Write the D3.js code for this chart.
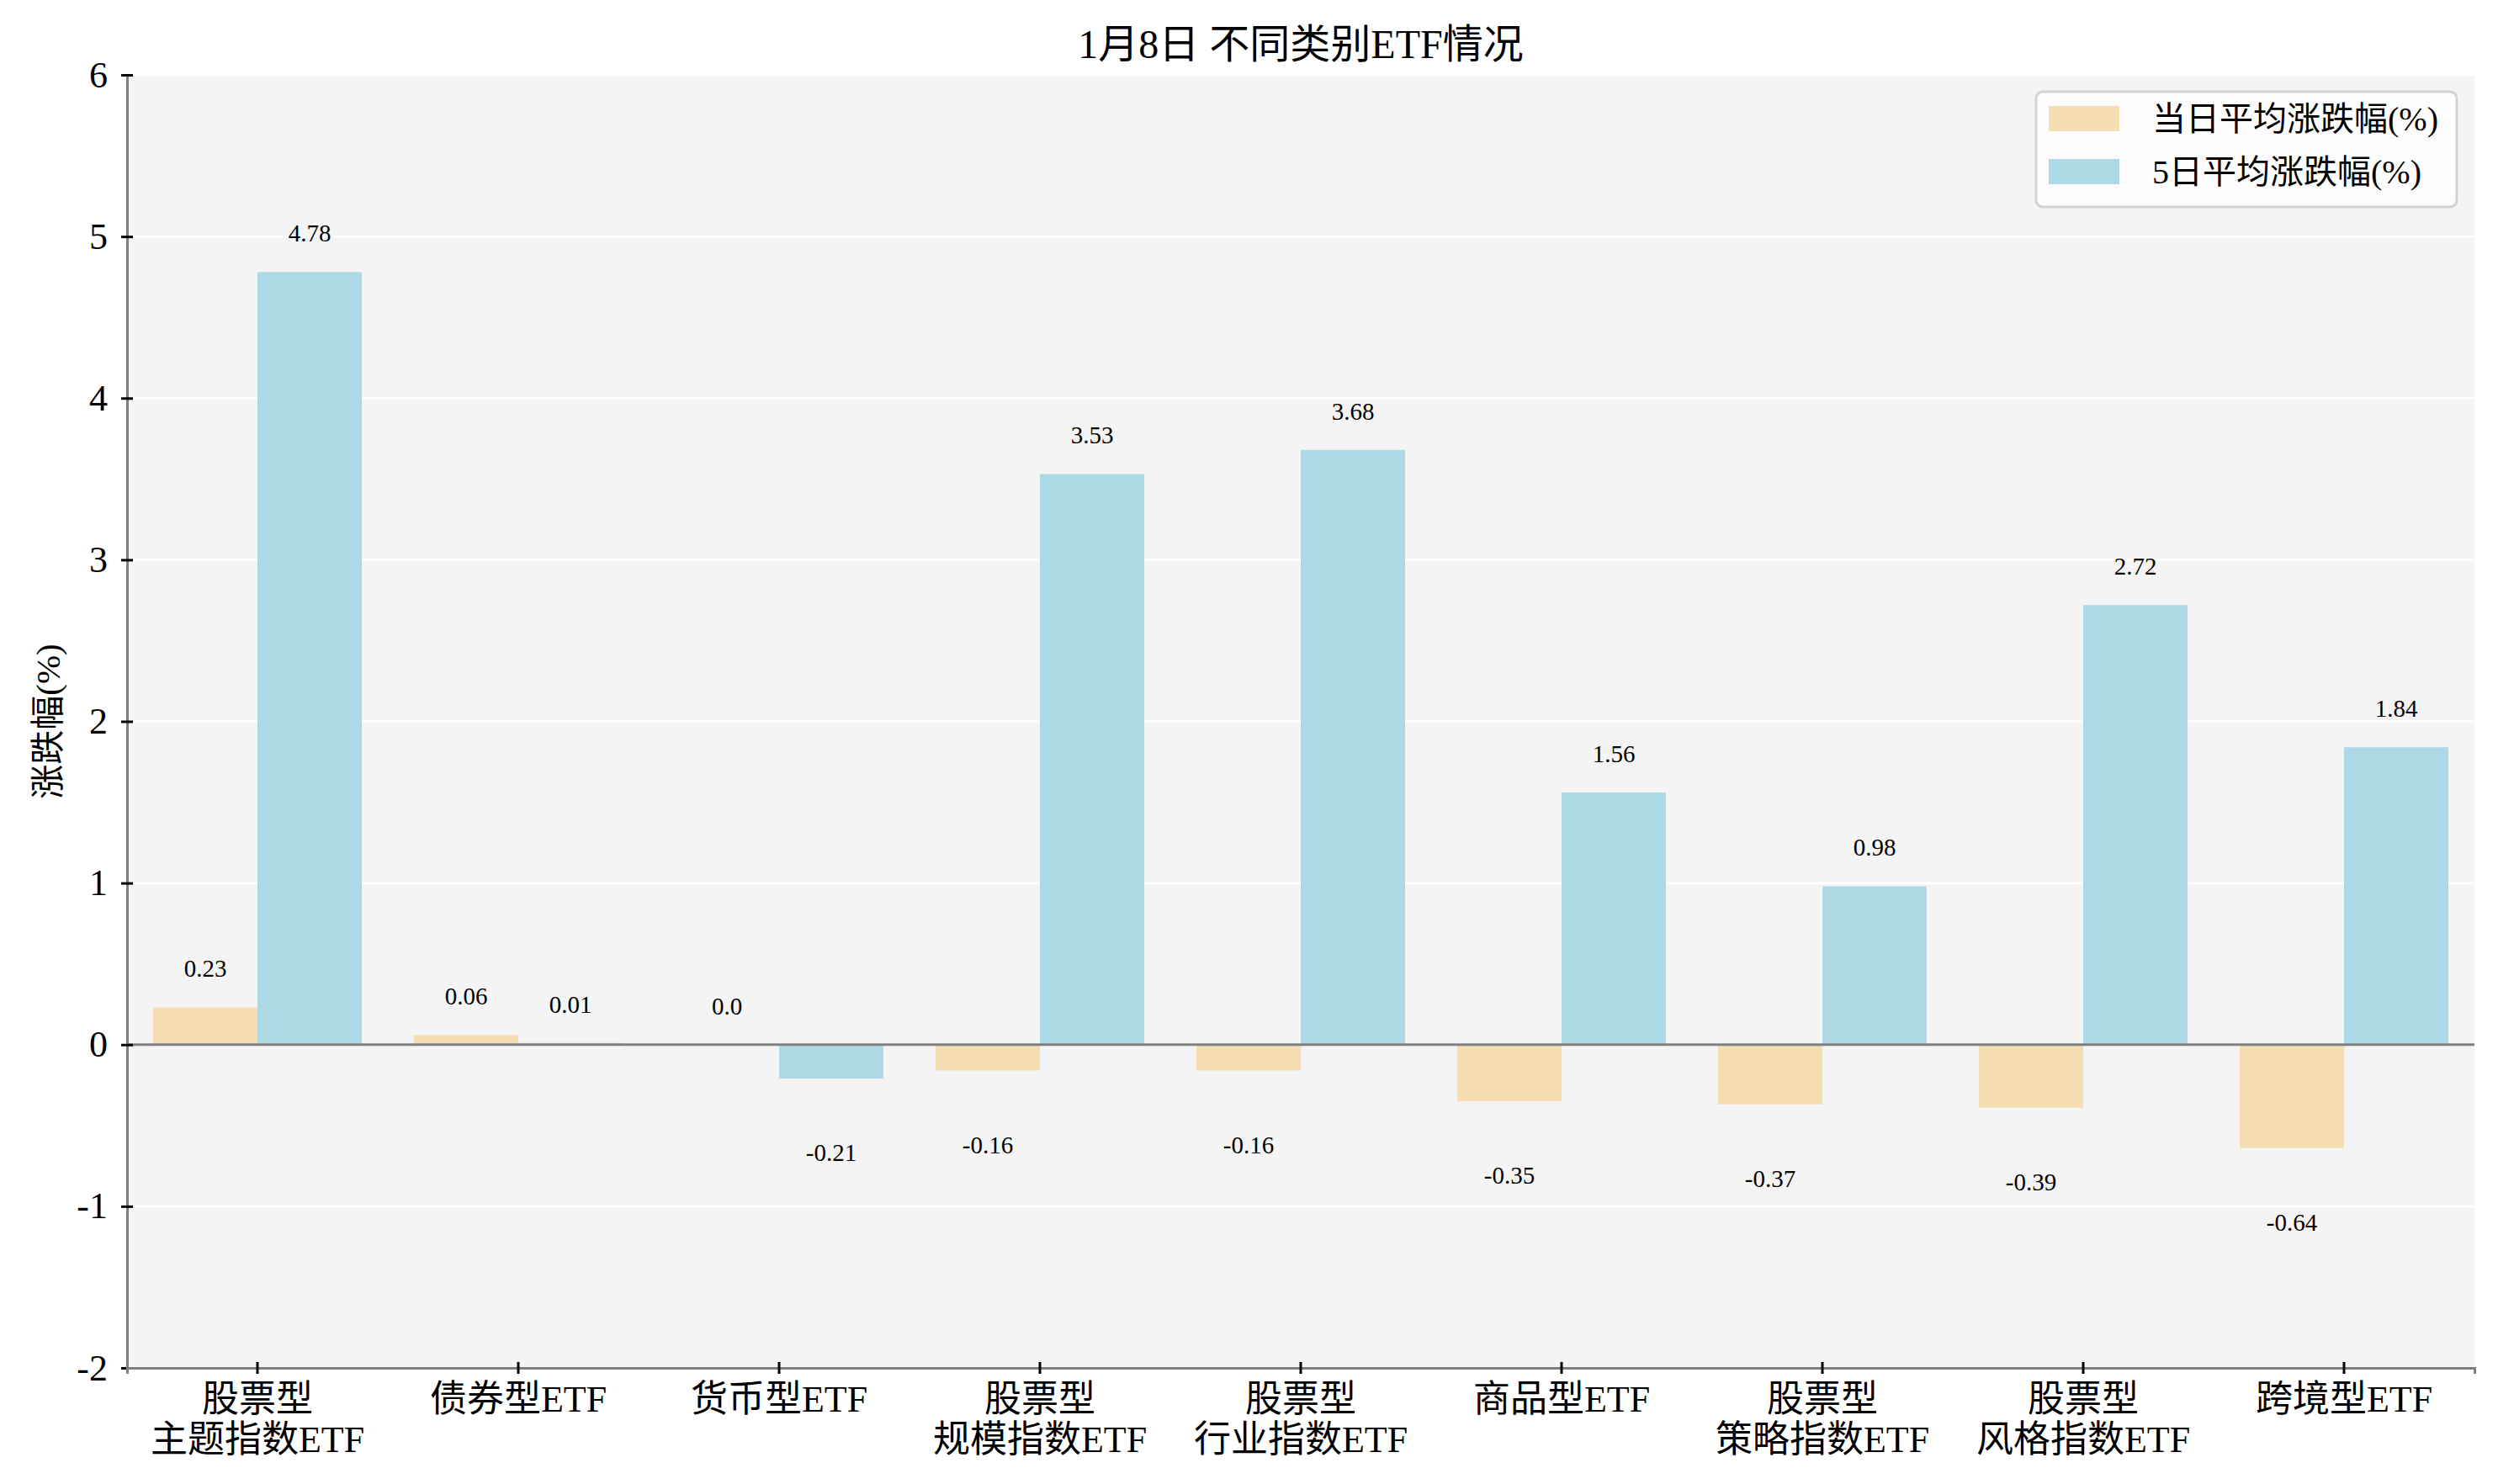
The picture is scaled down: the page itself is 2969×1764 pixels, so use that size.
<!DOCTYPE html>
<html>
<head>
<meta charset="utf-8">
<script src="https://cdn.jsdelivr.net/npm/d3@7"></script>
<style>
  body { margin: 0; background: #fff; }
  text { font-family: "Liberation Serif", "Noto Sans CJK SC", serif; fill: #000; }
</style>
</head>
<body>
<div id="chart"></div>
<script>
const categories = [
    "股票型\n主题指数ETF", "债券型ETF", "货币型ETF", "股票型\n规模指数ETF",
    "股票型\n行业指数ETF", "商品型ETF", "股票型\n策略指数ETF", "股票型\n风格指数ETF", "跨境型ETF"
]
const dayChange = [0.23, 0.06, 0.0, -0.16, -0.16, -0.35, -0.37, -0.39, -0.64]
const fiveDayChange = [4.78, 0.01, -0.21, 3.53, 3.68, 1.56, 0.98, 2.72, 1.84]
const seriesNames = ["当日平均涨跌幅(%)", "5日平均涨跌幅(%)"]
const seriesColors = ["#f5deb3", "#add8e6"]
const yTicks = [-2, -1, 0, 1, 2, 3, 4, 5, 6]
const chartTitle = "1月8日 不同类别ETF情况"
const yLabel = "涨跌幅(%)"

const W = 2969, H = 1764
const plotLeft = 151, plotRight = 2941, plotTop = 89, plotBottom = 1626

const svg = d3.select("#chart").append("svg")
    .attr("width", W)
    .attr("height", H)

const x = d3.scaleBand().domain(categories).range([plotLeft, plotRight]).padding(0)
const y = d3.scaleLinear().domain([-2, 6]).range([plotBottom, plotTop])
const bw = x.bandwidth() * 0.4

// plot background
svg.append("rect")
    .attr("x", plotLeft).attr("y", plotTop)
    .attr("width", plotRight - plotLeft).attr("height", plotBottom - plotTop)
    .attr("fill", "#f4f4f4")

// grid
svg.append("g").selectAll("line")
    .data(yTicks)
    .enter()
    .append("line")
    .attr("x1", plotLeft).attr("x2", plotRight)
    .attr("y1", d => y(d)).attr("y2", d => y(d))
    .attr("stroke", "#fff")
    .attr("stroke-width", 2.5)

const series = [dayChange, fiveDayChange]

// bars
series.forEach((vals, si) => {
    svg.append("g").selectAll("rect")
        .data(vals)
        .enter()
        .append("rect")
        .attr("x", (d, i) => x(categories[i]) + x.bandwidth() / 2 - bw + si * bw)
        .attr("width", bw)
        .attr("y", d => y(Math.max(0, d)))
        .attr("height", d => Math.abs(y(d) - y(0)))
        .attr("fill", seriesColors[si])
})

// zero line
svg.append("line")
    .attr("x1", plotLeft).attr("x2", plotRight)
    .attr("y1", y(0)).attr("y2", y(0))
    .attr("stroke", "#808080")
    .attr("stroke-width", 3)

// value labels
series.forEach((vals, si) => {
    svg.append("g").selectAll("text")
        .data(vals)
        .enter()
        .append("text")
        .attr("x", (d, i) => x(categories[i]) + x.bandwidth() / 2 - bw / 2 + si * bw)
        .attr("y", d => d >= 0 ? y(d + 0.24) : y(d - 0.46))
        .attr("text-anchor", "middle")
        .attr("dominant-baseline", "central")
        .style("font-size", "29px")
        .text(d => d === 0 ? "0.0" : String(d))
})

// y axis
const yAxis = svg.append("g")
    .attr("transform", `translate(${plotLeft},0)`)
    .call(d3.axisLeft(y).tickValues(yTicks).tickFormat(d => String(d)).tickSizeOuter(0).tickSize(7).tickPadding(16))
yAxis.select(".domain").attr("stroke", "#808080").attr("stroke-width", 3)
yAxis.selectAll(".tick line").attr("x1", -7).attr("x2", 7).attr("stroke", "#000").attr("stroke-width", 3)
yAxis.selectAll(".tick text").style("font-size", "44px").attr("fill", "#000")

// x axis
const xAxis = svg.append("g")
    .attr("transform", `translate(0,${plotBottom})`)
    .call(d3.axisBottom(x).tickSizeOuter(0).tickSize(7))
xAxis.select(".domain").attr("stroke", "#808080").attr("stroke-width", 3)
xAxis.selectAll(".tick line").attr("y1", -7).attr("y2", 7).attr("stroke", "#000").attr("stroke-width", 3)
xAxis.selectAll(".tick text").each(function (d) {
    const t = d3.select(this).text(null).attr("y", 0).attr("dy", null)
        .style("font-size", "44px").attr("fill", "#000")
    d.split("\n").forEach((line, k) => {
        t.append("tspan").attr("x", 0).attr("y", 52 + k * 48).text(line)
    })
})

// title
svg.append("text")
    .attr("x", (plotLeft + plotRight) / 2)
    .attr("y", 52)
    .attr("text-anchor", "middle")
    .attr("dominant-baseline", "central")
    .style("font-size", "48px")
    .text(chartTitle)

// y label
svg.append("text")
    .attr("transform", `translate(57,${(plotTop + plotBottom) / 2}) rotate(-90)`)
    .attr("text-anchor", "middle")
    .attr("dominant-baseline", "central")
    .style("font-size", "41px")
    .text(yLabel)

// legend
const legend = svg.append("g")
legend.append("rect")
    .attr("x", 2420).attr("y", 109)
    .attr("width", 500).attr("height", 137)
    .attr("rx", 8)
    .attr("fill", "#fcfcfc")
    .attr("stroke", "#d3d3d3")
    .attr("stroke-width", 3)
seriesNames.forEach((name, i) => {
    legend.append("rect")
        .attr("x", 2435).attr("y", 126 + i * 63)
        .attr("width", 84).attr("height", 30)
        .attr("fill", seriesColors[i])
    legend.append("text")
        .attr("x", 2558).attr("y", 141 + i * 63)
        .attr("dominant-baseline", "central")
        .style("font-size", "40px")
        .text(name)
})
</script>
</body>
</html>
